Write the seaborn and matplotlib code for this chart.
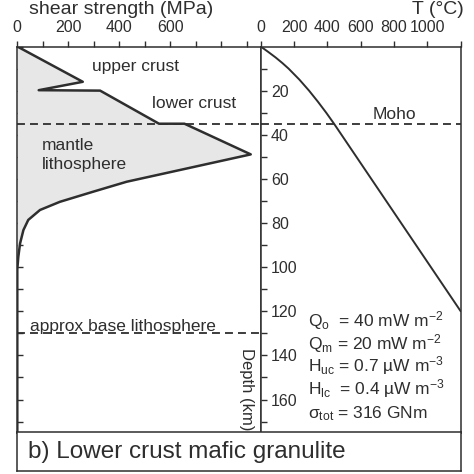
import numpy as np
import pandas as pd
import seaborn as sns
import matplotlib.pyplot as plt

# strength envelope (MPa vs depth km)
strength_depth = [0, 16, 19.8, 20, 35, 35, 48.9, 61.3, 65.8, 70.4, 74.1,
                  78.6, 83.2, 89.2, 95.3, 101, 175]
strength_mpa = [0, 257, 84, 325, 556, 656, 916, 429, 298, 167, 89,
                43, 24, 11, 4, 0, 0]

# geotherm (deg C vs depth km)
temp_depth = [0, 2.5, 5, 7.5, 10, 15, 20, 25, 30, 35, 120]
temp_c = [0, 46, 90, 130, 167, 232, 290, 343, 393, 440, 1200]

moho_depth = 35
base_lith_depth = 130

params = [r"Q$_{\rm o}$  = 40 mW m$^{-2}$",
          r"Q$_{\rm m}$ = 20 mW m$^{-2}$",
          r"H$_{\rm uc}$ = 0.7 µW m$^{-3}$",
          r"H$_{\rm lc}$  = 0.4 µW m$^{-3}$",
          r"σ$_{\rm tot}$ = 316 GNm"]
param_depths = [124.3, 134.5, 144.8, 155, 166.5]

sns.set_style("white")
plt.rcParams['font.family'] = ['Liberation Sans', 'DejaVu Sans']
plt.rcParams['mathtext.fontset'] = 'custom'
plt.rcParams['mathtext.rm'] = 'Liberation Sans'
plt.rcParams['mathtext.it'] = 'Liberation Sans:italic'

ink = '#2e2e2e'
fs_tick = 11.5
fs_txt = 12.5
tick_len = 4.3
dash = (0, (4.4, 2.8))

fig = plt.figure(figsize=(4.74, 4.74), dpi=100)
bot = (474 - 432.6) / 474
hgt = (432.6 - 46.5) / 474
ax1 = fig.add_axes([17.3 / 474, bot, 243.4 / 474, hgt])
ax2 = fig.add_axes([260.7 / 474, bot, 200 / 474, hgt])
axb = fig.add_axes([17.3 / 474, 3 / 474, 443.4 / 474, 38.6 / 474])

# left panel: strength
sdf = pd.DataFrame({'depth': strength_depth, 'mpa': strength_mpa})
ax1.fill_betweenx(sdf['depth'], 0, sdf['mpa'], color='#e7e7e7', lw=0)
sns.lineplot(data=sdf, x='mpa', y='depth', sort=False, estimator=None,
             color=ink, lw=1.8, ax=ax1)
ax1.set_xlim(0, 955)
ax1.set_ylim(175, 0)
ax1.xaxis.tick_top()
ax1.set_xticks(np.arange(0, 901, 100))
ax1.set_xticklabels(['0', '', '200', '', '400', '', '600', '', '', ''])
ax1.set_yticks(np.arange(0, 171, 10))
ax1.set_yticklabels([])
ax1.tick_params(axis='x', top=True, bottom=False, direction='out',
                length=tick_len, width=1, color=ink, labelsize=fs_tick,
                labelcolor=ink, pad=4)
ax1.tick_params(axis='y', left=True, direction='in', length=tick_len,
                width=1, color=ink)
ax1.set_xlabel('')
ax1.set_ylabel('')
ax1.axhline(moho_depth, color=ink, lw=1.3, ls=dash)
ax1.axhline(base_lith_depth, color=ink, lw=1.3, ls=dash)
ax1.text(293, 9.2, 'upper crust', fontsize=fs_txt, color=ink, va='center')
ax1.text(527, 25.7, 'lower crust', fontsize=fs_txt, color=ink, va='center')
ax1.text(95, 45, 'mantle', fontsize=fs_txt, color=ink, va='center')
ax1.text(95, 53.7, 'lithosphere', fontsize=fs_txt, color=ink, va='center')
ax1.text(50, 127, 'approx base lithosphere', fontsize=fs_txt, color=ink,
         va='center')

# right panel: temperature
tdf = pd.DataFrame({'depth': temp_depth, 'temp': temp_c})
sns.lineplot(data=tdf, x='temp', y='depth', sort=False, estimator=None,
             color=ink, lw=1.4, ax=ax2)
ax2.set_xlim(0, 1200)
ax2.set_ylim(175, 0)
ax2.xaxis.tick_top()
ax2.set_xticks(np.arange(0, 1201, 200))
ax2.set_xticklabels(['0', '200', '400', '600', '800', '1000', ''])
ax2.set_yticks(np.arange(20, 161, 20))
ax2.set_yticks(np.arange(10, 171, 20), minor=True)
ax2.tick_params(axis='x', top=True, bottom=False, direction='out',
                length=tick_len, width=1, color=ink, labelsize=fs_tick,
                labelcolor=ink, pad=4)
ax2.tick_params(axis='y', which='both', left=True, direction='in',
                length=tick_len, width=1, color=ink, labelsize=fs_tick,
                labelcolor=ink, pad=-7.5)
for lab in ax2.get_yticklabels():
    lab.set_horizontalalignment('left')
ax2.set_xlabel('')
ax2.set_ylabel('')
ax2.axhline(moho_depth, color=ink, lw=1.3, ls=dash)
ax2.text(672, 31, 'Moho', fontsize=fs_txt, color=ink, va='center')
for p, d in zip(params, param_depths):
    ax2.text(284, d, p, fontsize=fs_txt, color=ink, va='center')

for ax in (ax1, ax2):
    for s in ax.spines.values():
        s.set_color(ink)
        s.set_linewidth(1.1)
    ax.set_facecolor('white')

fig.text(247 / 474, 1 - 389 / 474, 'Depth (km)', rotation=270, fontsize=12,
         color=ink, ha='center', va='center')
fig.text(121 / 474, 1 - 9 / 474, 'shear strength (MPa)', fontsize=14,
         color=ink, ha='center', va='center')
fig.text(438 / 474, 1 - 9.5 / 474, 'T (°C)', fontsize=14, color=ink,
         ha='center', va='center')

# bottom caption box
axb.set_xticks([])
axb.set_yticks([])
for s in axb.spines.values():
    s.set_color(ink)
    s.set_linewidth(1.1)
axb.text(0.025, 0.5, 'b) Lower crust mafic granulite', fontsize=17.5,
         color=ink, va='center', transform=axb.transAxes)

fig.savefig('out.png', dpi=100)
